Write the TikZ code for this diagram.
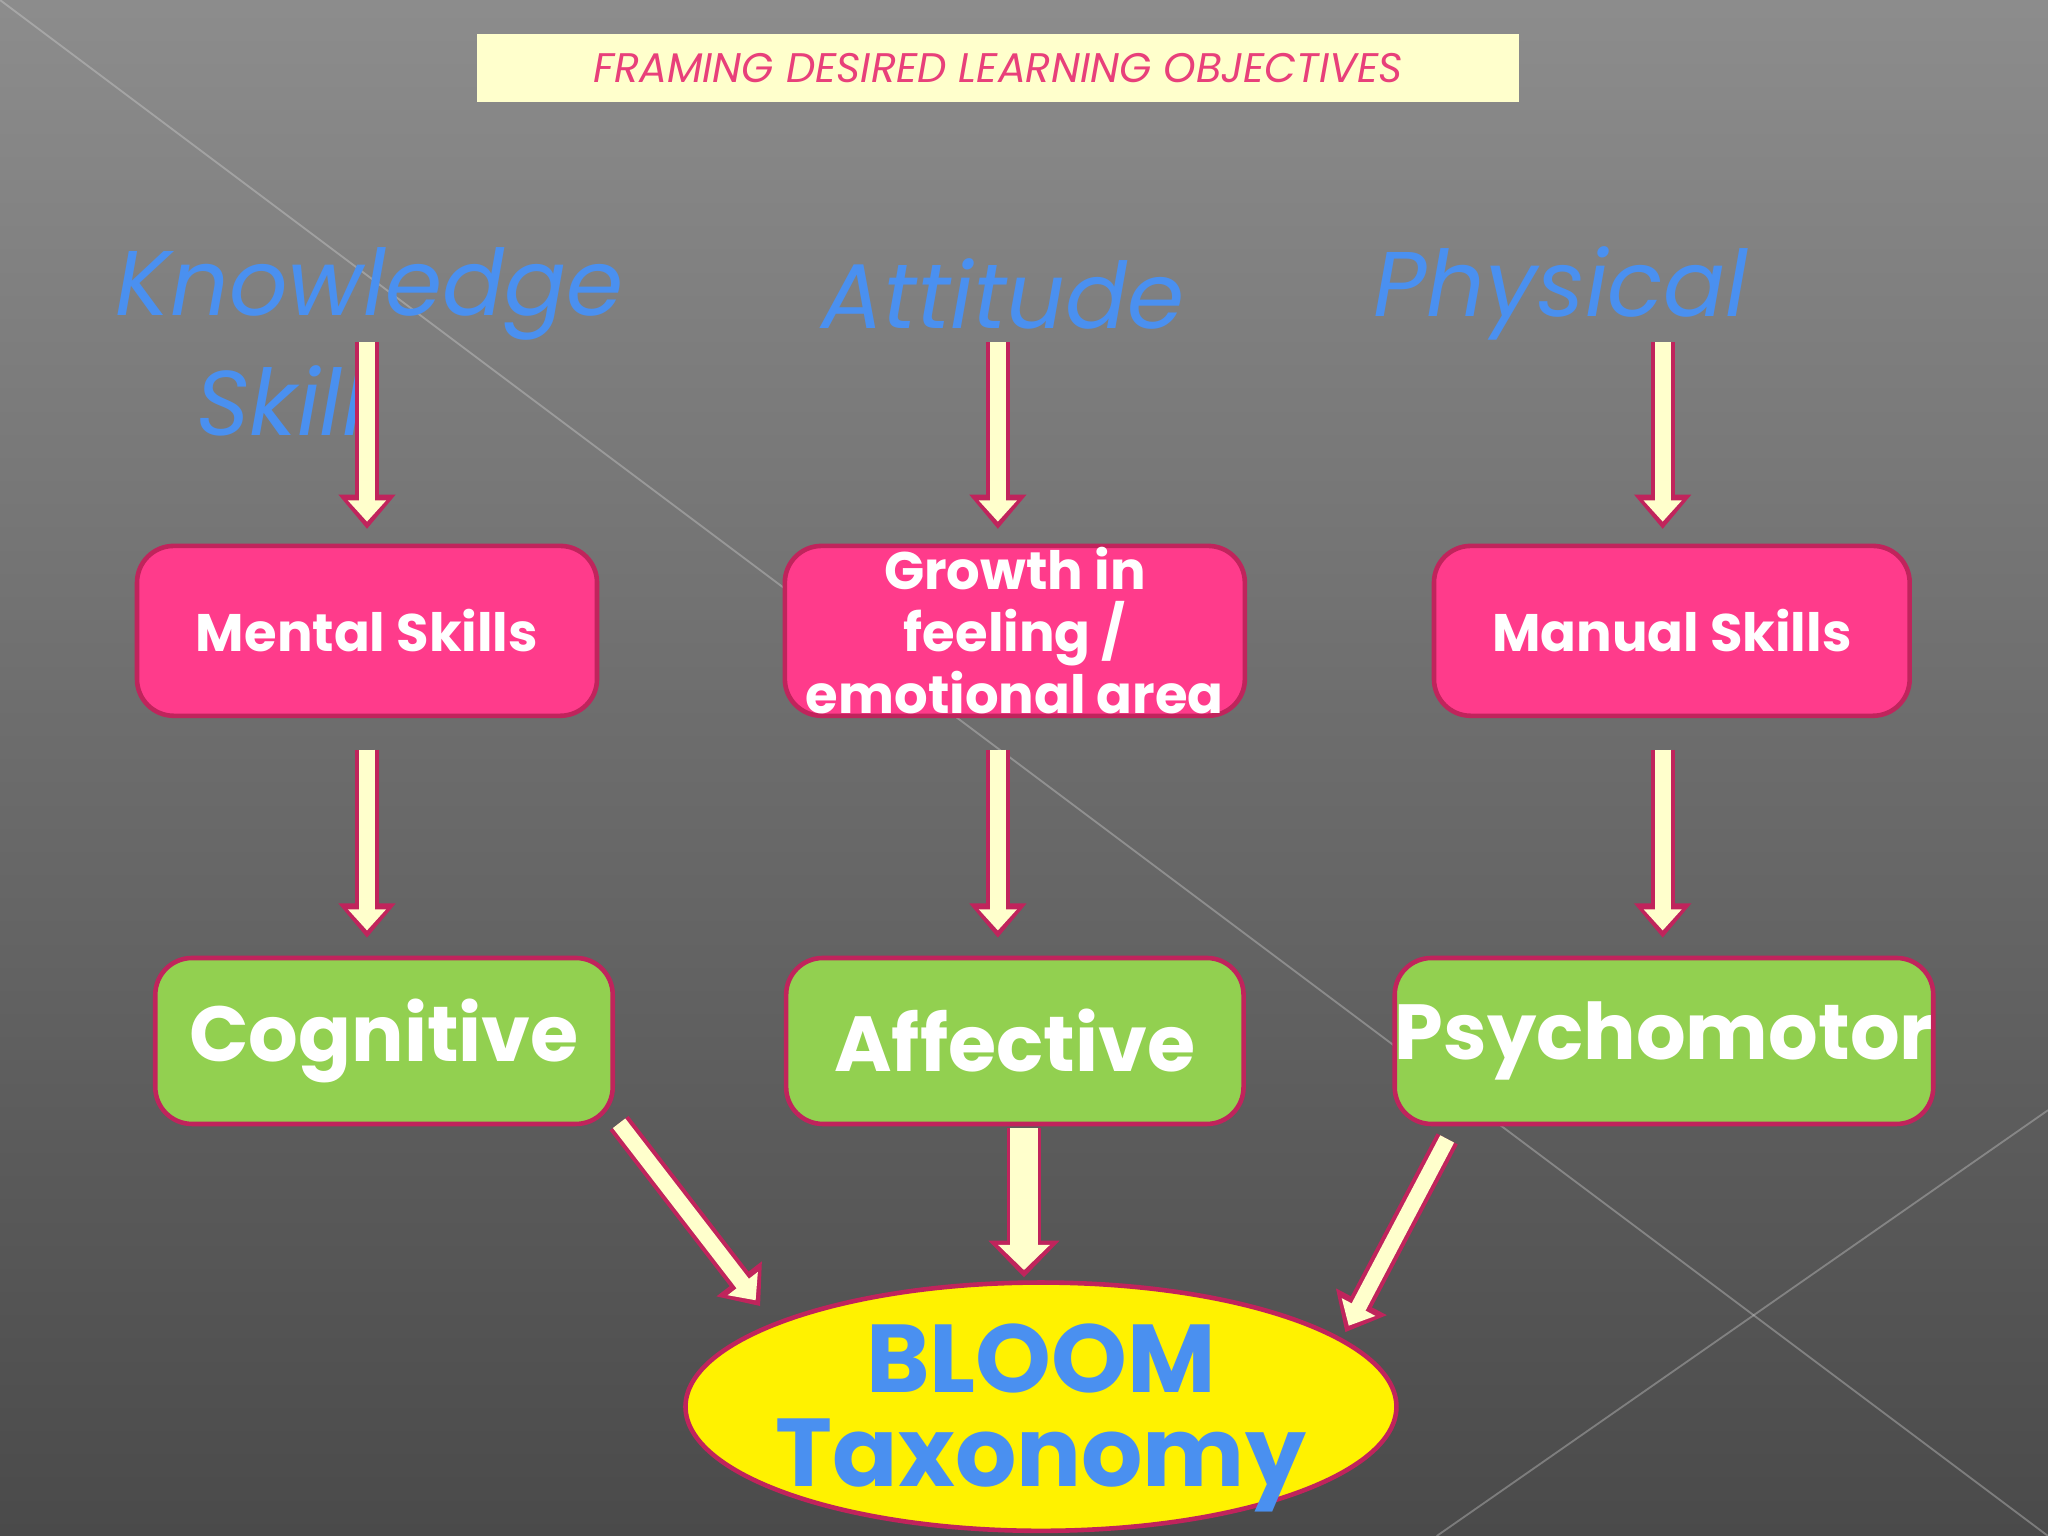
\documentclass[tikz,border=0pt]{standalone}
\usepackage{fontspec}
\setmainfont{Poppins}
\usetikzlibrary{arrows.meta,shapes.geometric}
\definecolor{crim}{HTML}{C0245C}
\definecolor{cream}{HTML}{FFFFCC}
\definecolor{pinkb}{HTML}{FF3B8B}
\definecolor{greenb}{HTML}{92D050}
\definecolor{bluet}{HTML}{4A90F0}
\definecolor{titlec}{HTML}{E8407A}
\tikzset{
  px/.style={x=0.01cm,y=-0.01cm},
  pbox/.style={draw=crim,line width=1pt,fill=pinkb,rounded corners=8pt,text=white,font=\bfseries\fontsize{11.5}{13.5}\selectfont,align=center,inner sep=0pt},
  gbox/.style={draw=crim,line width=1pt,fill=greenb,rounded corners=8pt,text=white,font=\bfseries\fontsize{17}{20}\selectfont,inner sep=0pt},
  lbl/.style={text=bluet,font=\itshape\fontsize{20}{24}\selectfont,inner sep=0pt},
  outerA/.style={draw=crim,line width=5.2pt,-{Triangle[width=12pt,length=7.5pt]}},
  innerA/.style={draw=cream,line width=3.4pt,shorten >=1.6pt,-{Triangle[width=8pt,length=4.6pt]}},
  outerB/.style={draw=crim,line width=7.6pt,-{Triangle[width=15pt,length=8pt]}},
  innerB/.style={draw=cream,line width=6pt,shorten >=1.6pt,-{Triangle[width=11pt,length=5.5pt]}},
}
\newcommand\blockarrow[2]{\draw[outerA] (#1) -- (#2); \draw[innerA] (#1) -- (#2);}
\begin{document}
\begin{tikzpicture}[px]
\useasboundingbox (0,0) rectangle (1568,1176);
\shade[top color=black!45,bottom color=black!71] (0,0) rectangle (1568,1176);
\draw[white!70!gray,opacity=0.35,line width=0.4pt] (0,0) -- (1568,1176);
\draw[white!70!gray,opacity=0.35,line width=0.4pt] (1100,1176) -- (1568,850);
\node[fill=cream,minimum width=7.97cm,minimum height=0.52cm,inner sep=0pt,text=titlec,font=\itshape\fontsize{9}{11}\selectfont] (title) at (764,52) {FRAMING DESIRED LEARNING OBJECTIVES};
\node[lbl] (kn) at (283,225) {Knowledge};
\node[lbl] (sk) at (215,307) {Skill};
\node[lbl] (at) at (768,225) {Attitude};
\node[lbl] (ph) at (1195,225) {Physical};
\node[pbox,minimum width=3.52cm,minimum height=1.3cm] (m) at (281,483) {Mental Skills};
\node[pbox,minimum width=3.52cm,minimum height=1.3cm] (g) at (777,483) {Growth in\\feeling /\\emotional area};
\node[pbox,minimum width=3.64cm,minimum height=1.3cm] (ms) at (1280,483) {Manual Skills};
\node[gbox,minimum width=3.5cm,minimum height=1.27cm] (c) at (294,797) {Cognitive};
\node[gbox,minimum width=3.5cm,minimum height=1.27cm] (a) at (777,797) {Affective};
\node[gbox,minimum width=3.5cm,minimum height=1.27cm] (p) at (1274,797) {Psychomotor};
\node[ellipse,draw=crim,line width=1pt,fill=yellow,minimum width=5.44cm,minimum height=1.9cm,inner sep=0pt] (b) at (797,1077) {};
\node[text=bluet,font=\bfseries\fontsize{21}{24}\selectfont] (bl) at (797,1040) {BLOOM};
\node[text=bluet,font=\bfseries\fontsize{21}{24}\selectfont] (tx) at (797,1122) {Taxonomy};
\coordinate (k1) at (281,262); \coordinate (k2) at (281,405);
\coordinate (a1) at (764,262); \coordinate (a2) at (764,405);
\coordinate (p1) at (1273,262); \coordinate (p2) at (1273,405);
\coordinate (m1) at (281,574); \coordinate (m2) at (281,718);
\coordinate (g1) at (764,574); \coordinate (g2) at (764,718);
\coordinate (s1) at (1273,574); \coordinate (s2) at (1273,718);
\coordinate (c1) at (474,860); \coordinate (c2) at (582,1000);
\coordinate (e1) at (784,864); \coordinate (e2) at (784,978);
\coordinate (q1) at (1108,872); \coordinate (q2) at (1030,1020);
\blockarrow{k1}{k2}\blockarrow{a1}{a2}\blockarrow{p1}{p2}
\blockarrow{m1}{m2}\blockarrow{g1}{g2}\blockarrow{s1}{s2}
\blockarrow{c1}{c2}\blockarrow{q1}{q2}
\draw[outerB] (e1) -- (e2); \draw[innerB] (e1) -- (e2);
\end{tikzpicture}
\end{document}
